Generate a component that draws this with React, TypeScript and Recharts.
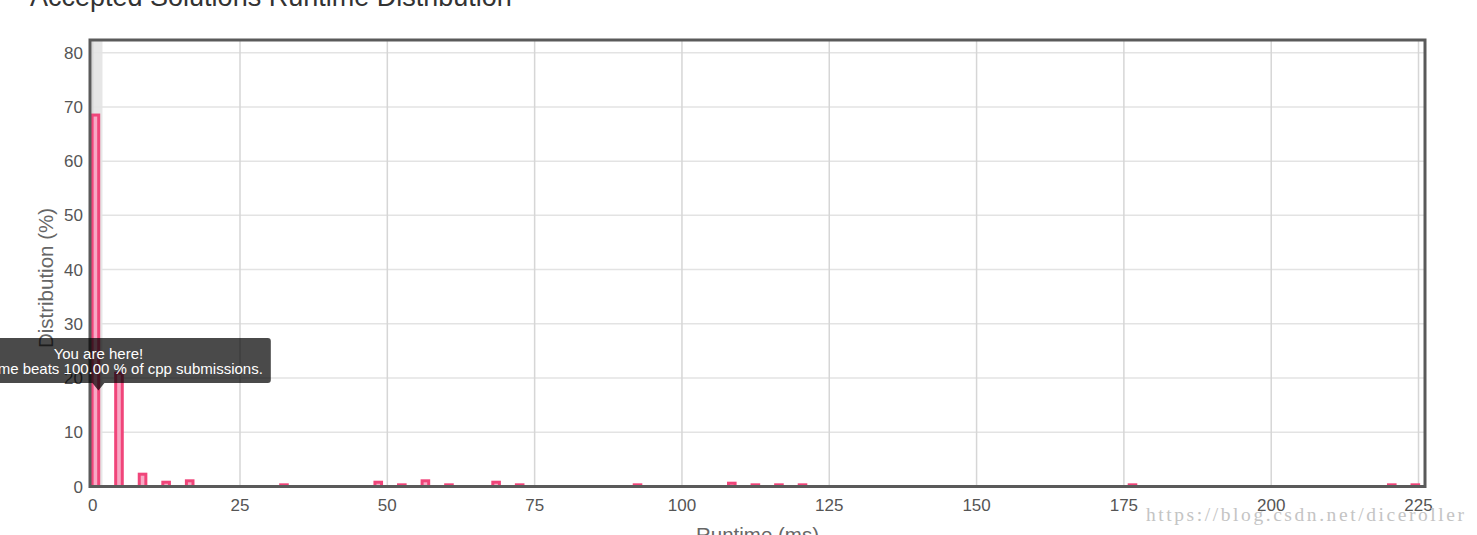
import React from 'react';
import {
  ComposedChart,
  Bar,
  XAxis,
  YAxis,
  CartesianGrid,
  ReferenceArea,
  ReferenceDot,
} from 'recharts';

// ---- data ----
const runtimes = [0, 4, 8, 12, 16, 32, 48, 52, 56, 60, 68, 72, 92, 108, 112, 116, 120, 176, 220, 224];
const distribution = [68.5, 20.9, 2.27, 0.79, 1.05, 0.31, 0.79, 0.31, 1.05, 0.31, 0.79, 0.31, 0.31, 0.61, 0.31, 0.31, 0.31, 0.31, 0.31, 0.31];
const xTicks = [0, 25, 50, 75, 100, 125, 150, 175, 200, 225];
const yTicks = [0, 10, 20, 30, 40, 50, 60, 70, 80];
const xDomain: [number, number] = [-0.457, 226.1];
const yDomain: [number, number] = [0, 82.34];
const highlightBand: [number, number] = [-0.457, 1.66];
const youAreHere = { x: 0.97, y: 17.7 };
const tooltipLines = ['You are here!', 'Your runtime beats 100.00 % of cpp submissions.'];
const title = 'Accepted Solutions Runtime Distribution';
const xTitle = 'Runtime (ms)';
const yTitle = 'Distribution (%)';
const watermark = 'https://blog.csdn.net/diceroller';

const data = runtimes.map((r, i) => ({ runtime: r, pct: distribution[i] }));

const FONT = '"Liberation Sans", Arial, Helvetica, sans-serif';

const BarShape = (p: any) => {
  const w = 6.6;
  const cx = p.x + p.width / 2 + 2.5;
  if (p.height == null || p.height <= 0) return null;
  return (
    <rect
      x={cx - w / 2}
      y={p.y}
      width={w}
      height={p.height}
      fill="#f8a9c5"
      stroke="#f0457a"
      strokeWidth={3}
    />
  );
};

const TooltipShape = (p: any) => {
  const { cx, cy } = p;
  if (cx == null || cy == null) return null;
  const halfW = 172.4;
  const h = 45;
  const gap = 7.4;
  const bottom = cy - gap;
  const top = bottom - h;
  const r = 3;
  const left = cx - halfW;
  const right = cx + halfW;
  const d = [
    `M${left + r},${top}`,
    `H${right - r}`,
    `Q${right},${top} ${right},${top + r}`,
    `V${bottom - r}`,
    `Q${right},${bottom} ${right - r},${bottom}`,
    `H${cx + 6}`,
    `L${cx},${cy}`,
    `L${cx - 6},${bottom}`,
    `H${left + r}`,
    `Q${left},${bottom} ${left},${bottom - r}`,
    `V${top + r}`,
    `Q${left},${top} ${left + r},${top}`,
    'Z',
  ].join(' ');
  return (
    <g>
      <path d={d} fill="rgba(0,0,0,0.71)" />
      <text x={cx} y={top + 20.7} textAnchor="middle" fill="#ffffff" fontSize={15} fontFamily={FONT}>
        {tooltipLines[0]}
      </text>
      <text x={cx} y={top + 36.2} textAnchor="middle" fill="#ffffff" fontSize={15} fontFamily={FONT}>
        {tooltipLines[1]}
      </text>
    </g>
  );
};

export default function App() {
  return (
    <div style={{ position: 'absolute', left: 0, top: 0, width: 1477, height: 535, background: '#fff' }}>
      <ComposedChart
        width={1477}
        height={535}
        data={data}
        margin={{ top: 40, right: 52, bottom: 18.5, left: 30 }}
        style={{ fontFamily: FONT }}
      >
        <ReferenceArea
          x1={highlightBand[0]}
          x2={highlightBand[1]}
          y1={yDomain[0]}
          y2={yDomain[1]}
          fill="#e6e6e6"
          fillOpacity={1}
          stroke="none"
          ifOverflow="hidden"
          zIndex={-150}
        />
        <CartesianGrid horizontal={true} vertical={false} stroke="#e3e3e3" strokeWidth={1.5} />
        <CartesianGrid horizontal={false} vertical={true} stroke="#d6d6d6" strokeWidth={1.5} />
        <XAxis
          dataKey="runtime"
          type="number"
          domain={xDomain}
          ticks={xTicks}
          interval={0}
          allowDataOverflow
          axisLine={false}
          tickLine={false}
          height={30}
          tickMargin={6}
          tick={{ fill: '#555', fontSize: 17, fontFamily: FONT }}
          label={{
            content: (props: any) => (
              <text x={757.5} y={542} textAnchor="middle" fill="#666" fontSize={20.5} fontFamily={FONT}>
                {xTitle}
              </text>
            ),
          }}
        />
        <YAxis
          type="number"
          domain={yDomain}
          ticks={yTicks}
          interval={0}
          allowDataOverflow
          axisLine={false}
          tickLine={false}
          width={60}
          tickMargin={1}
          tick={{ fill: '#555', fontSize: 17, fontFamily: FONT }}
          label={{
            content: (props: any) => (
              <text
                transform="translate(53.3, 278) rotate(-90)"
                x={0}
                y={0}
                textAnchor="middle"
                fill="#666"
                fontSize={20.5}
                fontFamily={FONT}
              >
                {yTitle}
              </text>
            ),
          }}
        />
        <Bar dataKey="pct" barSize={6} isAnimationActive={false} shape={BarShape} />
        <ReferenceArea
          x1={xDomain[0]}
          x2={xDomain[1]}
          y1={yDomain[0]}
          y2={yDomain[1]}
          fill="none"
          stroke="#5a5a5a"
          strokeWidth={3}
          ifOverflow="extendDomain"
          zIndex={1500}
        />
        <ReferenceDot
          x={youAreHere.x}
          y={youAreHere.y}
          r={0}
          shape={TooltipShape}
          zIndex={2500}
        />
      </ComposedChart>
      <svg
        width={1477}
        height={535}
        style={{ position: 'absolute', left: 0, top: 0, pointerEvents: 'none' }}
      >
        <text x={30} y={6} fill="#333" fontSize={27} fontFamily={FONT}>
          {title}
        </text>
        <text
          x={1146}
          y={521}
          fill="#c4c4c4"
          fontSize={19.5}
          fontFamily={'"Liberation Serif", "DejaVu Serif", serif'}
          textLength={318}
          lengthAdjust="spacing"
        >
          {watermark}
        </text>
      </svg>
    </div>
  );
}
